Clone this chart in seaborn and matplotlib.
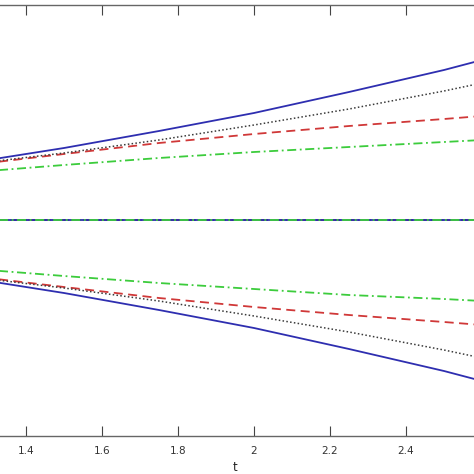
import matplotlib
matplotlib.use("Agg")
import matplotlib.pyplot as plt
import numpy as np
import pandas as pd
import seaborn as sns

# values (vertical units arbitrary, centre line at 0)
t = [1.3, 1.5, 1.75, 2.0, 2.25, 2.5, 2.6]

blue_upper = [0.60, 0.72, 0.89, 1.07, 1.28, 1.50, 1.60]
dotted_upper = [0.58, 0.67, 0.80, 0.95, 1.11, 1.29, 1.37]
red_upper = [0.57, 0.66, 0.77, 0.86, 0.94, 1.01, 1.04]
green_upper = [0.49, 0.55, 0.62, 0.68, 0.73, 0.78, 0.80]

blue_lower = [-0.61, -0.73, -0.90, -1.08, -1.29, -1.51, -1.61]
dotted_lower = [-0.59, -0.68, -0.81, -0.96, -1.12, -1.30, -1.38]
red_lower = [-0.58, -0.67, -0.78, -0.87, -0.95, -1.02, -1.05]
green_lower = [-0.50, -0.56, -0.63, -0.69, -0.75, -0.79, -0.81]

centre = [0.0] * len(t)

xticks = [1.4, 1.6, 1.8, 2.0, 2.2, 2.4]
xticklabels = ["1.4", "1.6", "1.8", "2", "2.2", "2.4"]

styles = {
    "blue": dict(color="#2e2eb0", linestyle="-", linewidth=1.3),
    "dotted": dict(color="#3a3a3a", linestyle=(0, (1, 1.5)), linewidth=1.1),
    "red": dict(color="#d03838", linestyle=(0, (5, 3)), linewidth=1.3),
    "green": dict(color="#3ccc3c", linestyle=(0, (5, 2, 1, 2)), linewidth=1.3),
}

# drawing order: the centre line shows green over blue in the reference
series = {
    "red": [red_upper, red_lower, centre],
    "dotted": [dotted_upper, dotted_lower, centre],
    "blue": [blue_upper, blue_lower, centre],
    "green": [green_upper, green_lower, centre],
}

sns.set_style("white")
plt.rcParams["font.family"] = ["DejaVu Sans"]

fig = plt.figure(figsize=(4.74, 4.74), dpi=100)
# the reference is a crop: left and right frame edges lie outside the picture
left_px, right_px = -12, 482
top_px, bottom_px = 5, 436
ax = fig.add_axes([left_px / 474, 1 - bottom_px / 474,
                   (right_px - left_px) / 474, (bottom_px - top_px) / 474])

for name, curves in series.items():
    for ys in curves:
        df = pd.DataFrame({"t": t, "y": ys})
        sns.lineplot(data=df, x="t", y="y", ax=ax, legend=False, **styles[name])

ax.set_xlim(1.3, 2.6)
ax.set_ylim(-2.16, 2.15)
ax.set_xticks(xticks)
ax.set_xticklabels(xticklabels)
ax.set_yticks([])
ax.set_ylabel("")
ax.set_xlabel("t", fontsize=8.5, labelpad=4, color="#222222")

for side in ["top", "bottom", "left", "right"]:
    ax.spines[side].set_color("#666666")
    ax.spines[side].set_linewidth(1.0)

ax.tick_params(axis="x", direction="in", top=True, bottom=True, length=7,
               width=0.8, color="#444444", labelsize=7.5, labelcolor="#333333", pad=7)

fig.savefig("out.png", dpi=100)
